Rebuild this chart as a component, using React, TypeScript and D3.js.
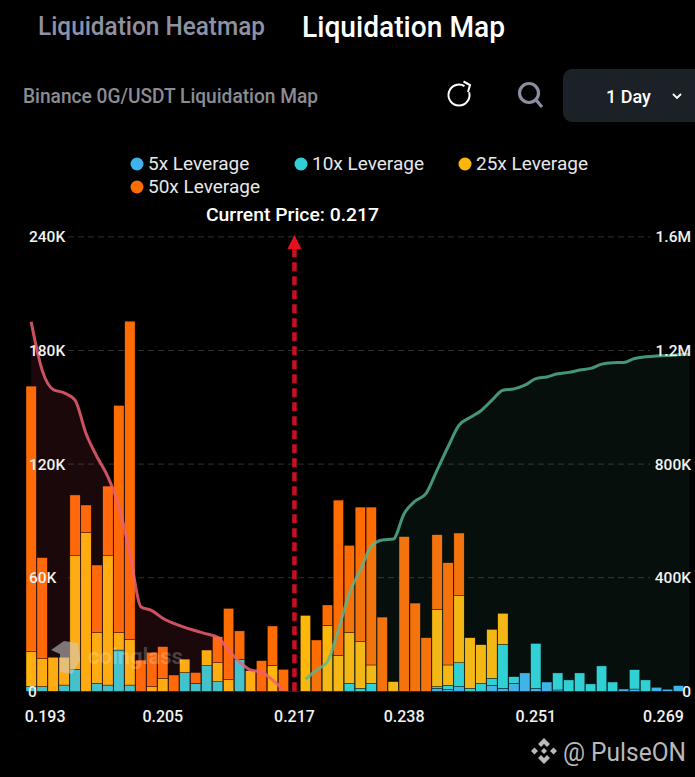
import { useEffect, useRef } from "react";
import * as d3 from "d3";

// bucket values in thousands, one entry per price bucket (24 = current price)
const leverage5 = [0,0,0,0,0,0,0,0,0,0,0,0,0,0,0,0,0,0,0,0,0,0,0,0,0,0,0,0,0,0,0,0,0,0,0,0,0,1.6,0.9,2.5,0,0,3.2,1.6,4.2,9.7,1.6,4.9,0.7,0,0,0,0,0,1.2,1.2,0,2.1,1.1,3,0];
const leverage10 = [2.5,2.5,0,3.3,11.6,0,4.2,3.3,21.8,3.3,0,0,0,0,9.9,4.2,13.6,5.1,0,16.9,0,0,0,0,0,0,0,0,0,4.2,1.6,4.2,0,0,0,0,0,0.9,2.3,12.6,1.6,4.2,3.7,23.2,3.5,0,23.7,0,9,6,9.7,3.9,13.4,4.9,0,10.2,6,0,0,0,0];
const leverage25 = [18.4,14.7,18,14.7,60,83.8,26.8,68.3,9.2,24.2,0,2.5,6.9,0,7.1,0,8.2,10,6.3,0,10.9,0,13.6,0,0,40.1,0,34.7,19,26.8,24.6,9.7,0,5.1,0,0,0,40.8,10.7,35.4,26.7,20.4,25.8,16.4,0,0,0,0,0,0,0,0,0,0,0,0,0,0,0,0,0];
const leverage50 = [140.3,53.4,0,0,32.1,14.6,35.7,36.8,120,168,16.5,18.1,16.7,8.6,0,5.7,0,13.8,37.5,15,0,16.2,20.9,11.6,0,0,27.1,10.9,82,46.1,71.1,83.4,39.2,0,81.7,46.6,28.3,39.4,54,33.1,0,0,0,0,0,0,0,0,0,0,0,0,0,0,0,0,0,0,0,0,0];

// cumulative liquidation, thousands, right axis
const shortCumulative = [1301,1131,1063,1051,1025,908,826,755,650,486,298,284,257,239,225,213,202,190,145,104,75,68,40,5];
const longCumulative = [42,75,104,216,345,427,511,533,536,626,670,697,779,861,937,964,988,1025,1060,1065,1078,1101,1107,1118,1123,1131,1137,1152,1157,1158,1172,1178,1181,1182,1185,1187];

const leftTicks = [0, 60, 120, 180, 240];
const leftTickLabels = ["0", "60K", "120K", "180K", "240K"];
const rightTicks = [0, 400, 800, 1200, 1600];
const rightTickLabels = ["0", "400K", "800K", "1.2M", "1.6M"];
const priceTicks = [1, 12, 24, 34, 46, 58];
const priceTickLabels = ["0.193", "0.205", "0.217", "0.238", "0.251", "0.269"];

const seriesNames = ["5x Leverage", "10x Leverage", "25x Leverage", "50x Leverage"];
const seriesColors = ["#3fb1ec", "#2fd0d8", "#ffb60a", "#ff6c02"];

const FONT = "Roboto, sans-serif";

const App = () => {
  const svgRef = useRef<SVGSVGElement | null>(null);

  useEffect(() => {
    const svg = d3.select(svgRef.current);
    svg.selectAll("*").remove();

    const width = 695;
    const height = 777;
    const top = 236.9;
    const bottom = 691.3;

    svg.append("rect").attr("width", width).attr("height", height).attr("fill", "#000");

    const buckets = d3.range(leverage5.length);
    const x = d3.scaleBand<number>().domain(buckets).range([26, 26 + 61 * 10.96]).paddingInner(0.06).paddingOuter(0);
    const yLeft = d3.scaleLinear().domain([0, 240]).range([bottom, top]);
    const yRight = d3.scaleLinear().domain([0, 1600]).range([bottom, top]);
    const cx = (i: number) => (x(i) as number) + x.bandwidth() / 2;

    // header
    const text = (tx: number, ty: number, s: string, size: number, fill: string, weight = 400, anchor = "start") =>
      svg.append("text").attr("x", tx).attr("y", ty).attr("fill", fill).attr("text-anchor", anchor)
        .style("font-family", FONT).style("font-size", `${size}px`).style("font-weight", weight).text(s);

    text(38, 35, "Liquidation Heatmap", 26, "#8e91a4", 500).attr("textLength", 227).attr("lengthAdjust", "spacingAndGlyphs");
    text(302, 37, "Liquidation Map", 29, "#ffffff", 500).attr("textLength", 203).attr("lengthAdjust", "spacingAndGlyphs");
    text(23, 103, "Binance 0G/USDT Liquidation Map", 20, "#8b8c94", 500).attr("textLength", 295).attr("lengthAdjust", "spacingAndGlyphs");

    // refresh icon
    const arc = d3.arc<any>()({ innerRadius: 10.5, outerRadius: 10.5, startAngle: 1.3, endAngle: 2 * Math.PI + 0.55 } as any);
    svg.append("path").attr("d", arc).attr("transform", "translate(459,95)").attr("fill", "none").attr("stroke", "#fff").attr("stroke-width", 2);
    svg.append("path").attr("d", "M463.5 81.5 L470 85 L468 92").attr("fill", "none").attr("stroke", "#fff").attr("stroke-width", 2);
    // search icon
    svg.append("circle").attr("cx", 529).attr("cy", 93).attr("r", 9.5).attr("fill", "none").attr("stroke", "#8b8ea3").attr("stroke-width", 3.2);
    svg.append("line").attr("x1", 536).attr("y1", 100).attr("x2", 542).attr("y2", 107).attr("stroke", "#8b8ea3").attr("stroke-width", 3.2);
    // period select
    svg.append("rect").attr("x", 563).attr("y", 69).attr("width", 150).attr("height", 53).attr("rx", 9).attr("fill", "#1b2126");
    text(606, 103, "1 Day", 18, "#ffffff", 500);
    svg.append("path").attr("d", "M673 94 L677 98 L681 94").attr("fill", "none").attr("stroke", "#fff").attr("stroke-width", 1.8);

    // legend
    const legendPos = [[137, 164], [301, 164], [465, 164], [137, 187]];
    seriesNames.forEach((name, i) => {
      svg.append("circle").attr("cx", legendPos[i][0]).attr("cy", legendPos[i][1]).attr("r", 6.5).attr("fill", seriesColors[i]);
      text(legendPos[i][0] + 11, legendPos[i][1] + 6, name, 19, "#e8e8e8");
    });

    text(292.5, 221, "Current Price: 0.217", 18, "#ffffff", 500, "middle").attr("textLength", 173).attr("lengthAdjust", "spacingAndGlyphs");

    // grid
    leftTicks.forEach((t) => {
      svg.append("line").attr("x1", 68).attr("x2", 650).attr("y1", yLeft(t)).attr("y2", yLeft(t))
        .attr("stroke", t === 0 ? "#1a2a33" : "#303030").attr("stroke-width", 1).attr("stroke-dasharray", t === 0 ? null : "6,4");
    });

    // stacked bars
    const rows = buckets.map((i) => ({ i, a: leverage5[i], b: leverage10[i], c: leverage25[i], d: leverage50[i] }));
    const stack = d3.stack<any>().keys(["a", "b", "c", "d"])(rows);
    stack.forEach((layer, k) => {
      svg.append("g").selectAll("rect").data(layer.filter((s) => s[1] > s[0])).enter().append("rect")
        .attr("x", (s: any) => x(s.data.i) as number)
        .attr("width", x.bandwidth())
        .attr("y", (s) => yLeft(s[1]))
        .attr("height", (s) => yLeft(s[0]) - yLeft(s[1]))
        .attr("fill", seriesColors[k])
        .attr("stroke", "#000")
        .attr("stroke-width", 0.4);
    });

    // cumulative lines
    const shortPts = shortCumulative.map((v, i) => [i, v] as [number, number]);
    const longPts = longCumulative.map((v, i) => [i + 25, v] as [number, number]);
    const line = d3.line<[number, number]>().x((d) => cx(d[0])).y((d) => yRight(d[1])).curve(d3.curveMonotoneX);
    const area = d3.area<[number, number]>().x((d) => cx(d[0])).y0(bottom).y1((d) => yRight(d[1])).curve(d3.curveMonotoneX);

    svg.append("path").datum(shortPts).attr("d", area).attr("fill", "#ff4d5e").attr("fill-opacity", 0.1);
    svg.append("path").datum(longPts).attr("d", area).attr("fill", "#4fd1a8").attr("fill-opacity", 0.07);
    svg.append("path").datum(shortPts).attr("d", line).attr("fill", "none").attr("stroke", "#ef5f72").attr("stroke-opacity", 0.85).attr("stroke-width", 3);
    svg.append("path").datum(longPts).attr("d", line).attr("fill", "none").attr("stroke", "#55b999").attr("stroke-opacity", 0.8).attr("stroke-width", 3);

    // current price marker
    const px = cx(24);
    svg.append("line").attr("x1", px).attr("x2", px).attr("y1", bottom).attr("y2", top + 8)
      .attr("stroke", "#c80f24").attr("stroke-width", 4.5).attr("stroke-dasharray", "9,5");
    svg.append("path").attr("d", `M${px} ${top - 2} L${px + 7} ${top + 12} L${px - 7} ${top + 12} Z`).attr("fill", "#e8101f");

    // watermark
    svg.append("path").attr("d", "M51 650 L64 641 L78 643 L80 660 L72 674 L60 672 L60 654 Z").attr("fill", "#cfcfcf").attr("fill-opacity", 0.55);
    text(88, 664, "coinglass", 22, "#ffffff", 700).attr("fill-opacity", 0.22);

    // axis labels
    leftTicks.forEach((t, i) => text(t === 0 ? 28 : 29, yLeft(t) + 5.5, leftTickLabels[i], 15.5, "#f2f2f2", 500));
    rightTicks.forEach((t, i) => text(691, yRight(t) + 5.5, rightTickLabels[i], 15.5, "#f2f2f2", 500, "end"));
    priceTicks.forEach((t, i) => text(cx(t) + (i === 0 ? 3 : i === 5 ? -4 : 0), 722, priceTickLabels[i], 16, "#f2f2f2", 500, "middle"));

    // signature
    svg.append("g").attr("transform", "translate(544,751)").selectAll("path")
      .data(["M0 -13 L6 -7 L3 -4 L0 -7 L-3 -4 L-6 -7 Z", "M0 13 L6 7 L3 4 L0 7 L-3 4 L-6 7 Z", "M-13 0 L-9.5 -3.5 L-6 0 L-9.5 3.5 Z", "M13 0 L9.5 -3.5 L6 0 L9.5 3.5 Z", "M0 -3 L3 0 L0 3 L-3 0 Z"])
      .enter().append("path").attr("d", (d) => d).attr("fill", "#b9b9b9");
    text(563, 761, "@ PulseON", 26, "#b9b9b9").attr("textLength", 123).attr("lengthAdjust", "spacingAndGlyphs");
  }, []);

  return <svg ref={svgRef} width={695} height={777} style={{ position: "absolute", left: 0, top: 0, display: "block" }} />;
};

export default App;
